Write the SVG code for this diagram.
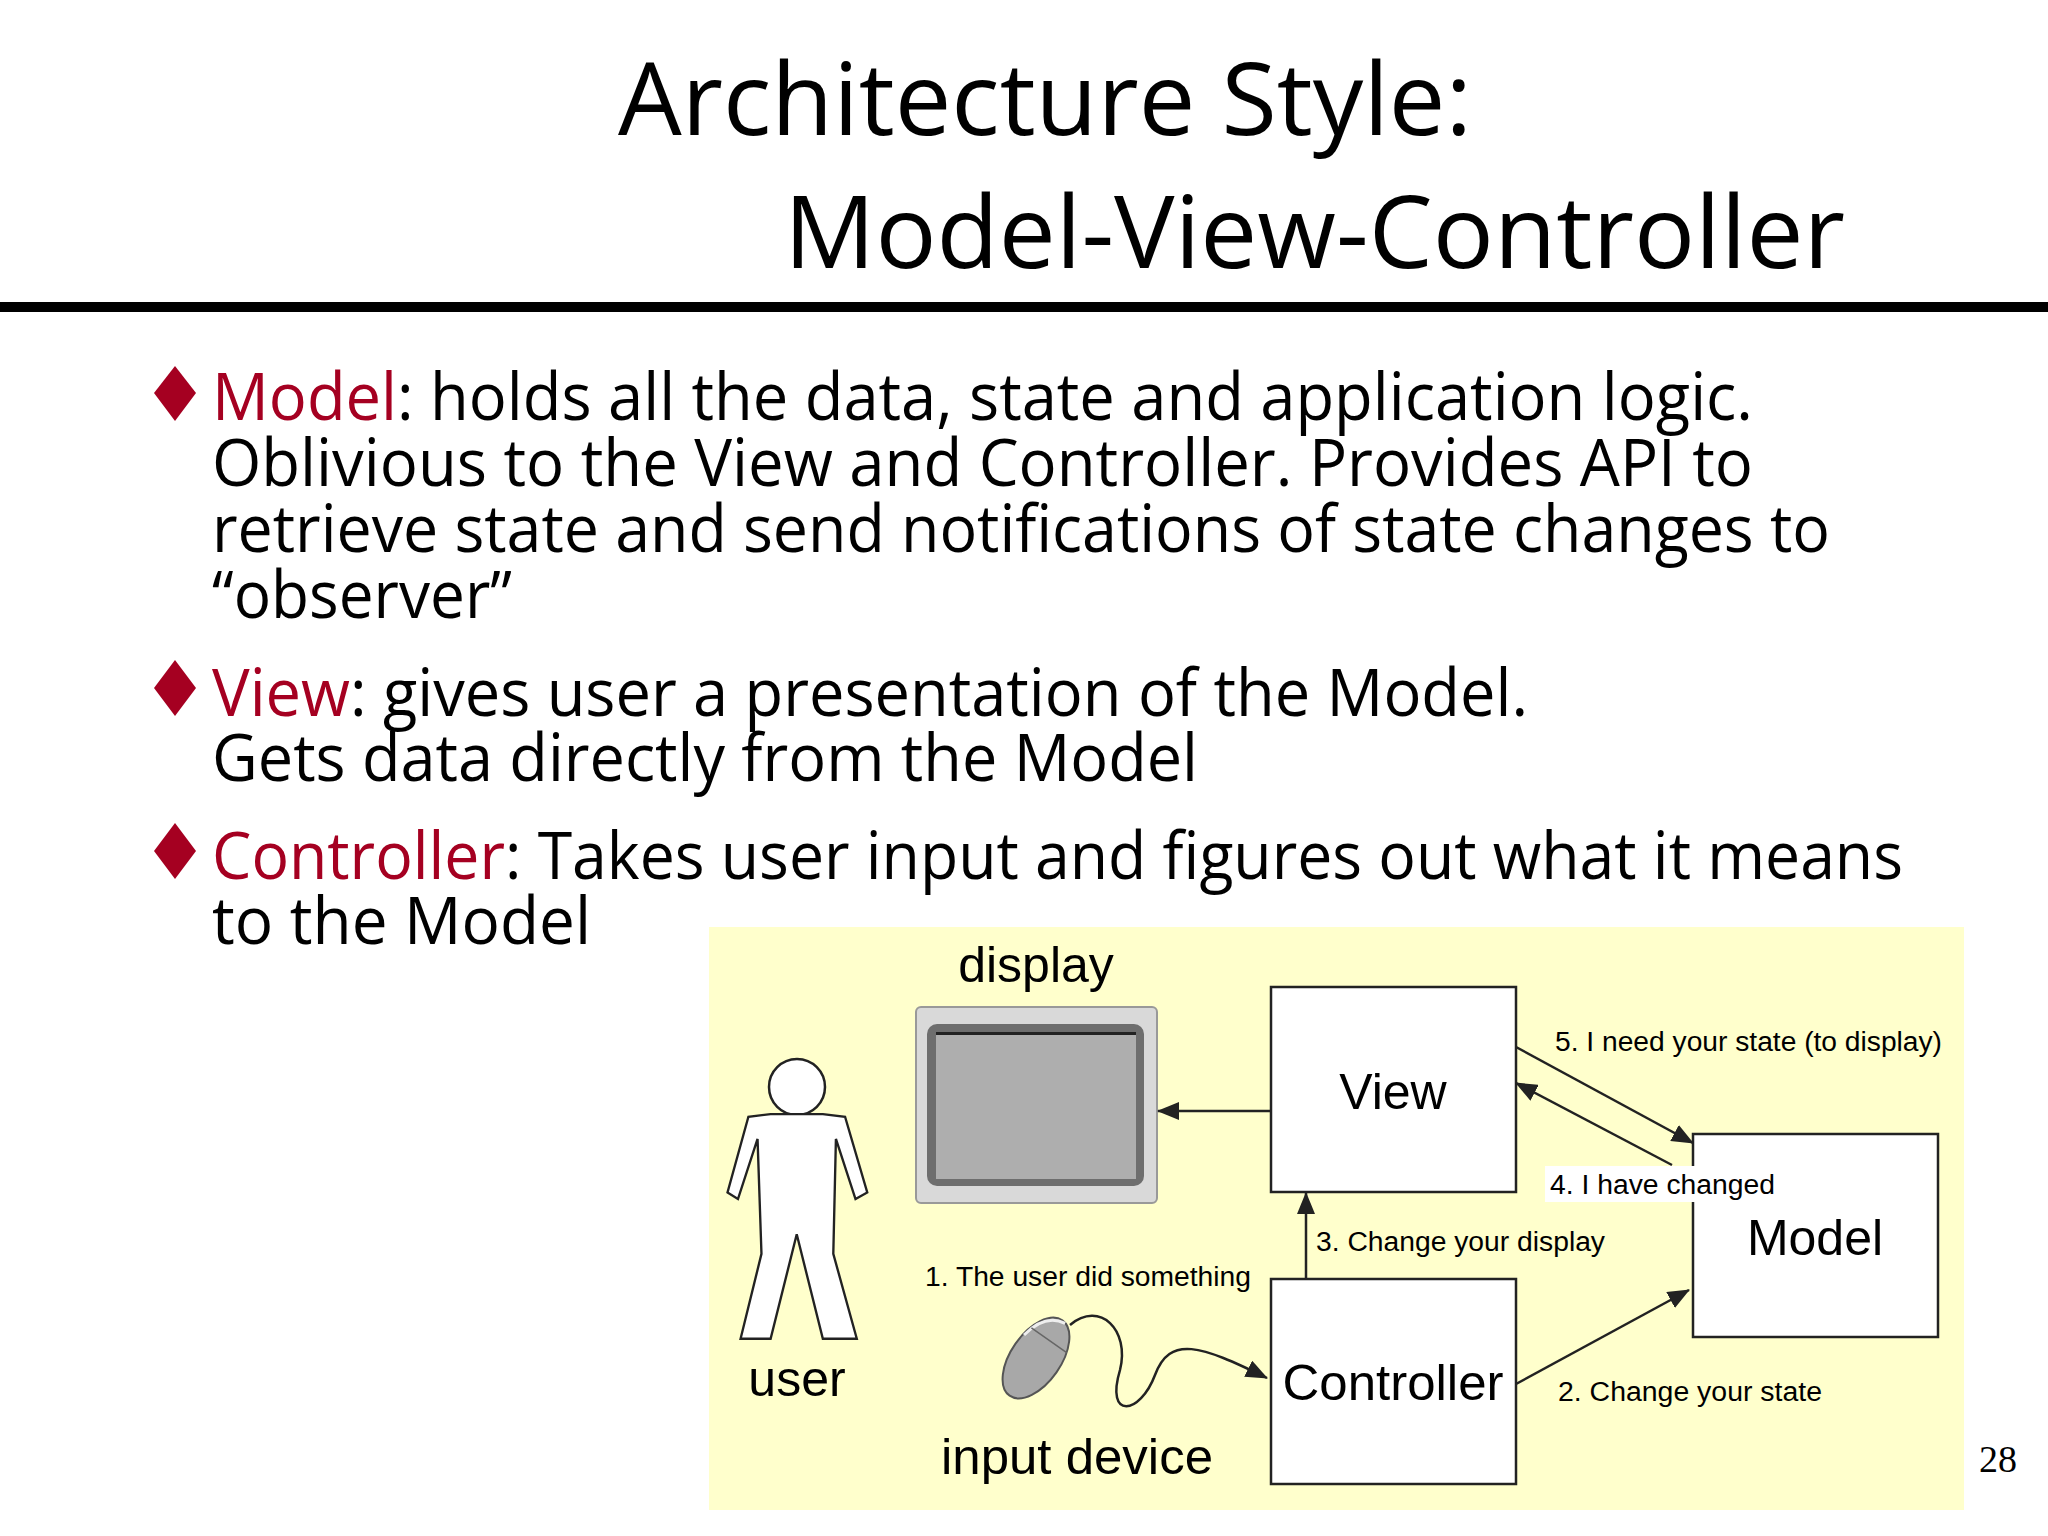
<svg xmlns="http://www.w3.org/2000/svg" width="2048" height="1536" viewBox="0 0 2048 1536">
<style>
.t{font-family:"Open Sans","Noto Sans",sans-serif;fill:#000}
.r{fill:#A50021}
.d{font-family:"Liberation Sans",Arial,sans-serif;fill:#000}
.box{fill:#fff;stroke:#222;stroke-width:2.5}
.ln{stroke:#222;stroke-width:2.5;fill:none}
</style>
<defs>
<marker id="ah" viewBox="0 0 22 18" refX="21" refY="9" markerWidth="22" markerHeight="18" markerUnits="userSpaceOnUse" orient="auto">
<path d="M0,0 L22,9 L0,18 Z" fill="#222"/>
</marker>
</defs>
<rect width="2048" height="1536" fill="#fff"/>
<text class="t" x="618" y="135" font-size="100" textLength="854" lengthAdjust="spacingAndGlyphs">Architecture Style:</text>
<text class="t" x="784" y="268" font-size="100" textLength="1061" lengthAdjust="spacingAndGlyphs">Model-View-Controller</text>
<rect x="0" y="302" width="2048" height="10" fill="#000"/>
<g id="bullets">
<path d="M175,366 L196,393 L175,421 L154,393 Z" fill="#A50021"/>
<path d="M175,660 L196,688 L175,716 L154,688 Z" fill="#A50021"/>
<path d="M175,823 L196,851 L175,879 L154,851 Z" fill="#A50021"/>
<text class="t" font-size="66" x="212" y="420" textLength="1541" lengthAdjust="spacingAndGlyphs"><tspan class="r">Model</tspan>: holds all the data, state and application logic.</text>
<text class="t" font-size="66" x="212" y="486" textLength="1541" lengthAdjust="spacingAndGlyphs">Oblivious to the View and Controller. Provides API to</text>
<text class="t" font-size="66" x="212" y="552" textLength="1618" lengthAdjust="spacingAndGlyphs">retrieve state and send notifications of state changes to</text>
<text class="t" font-size="66" x="212" y="618" textLength="300" lengthAdjust="spacingAndGlyphs">“observer”</text>
<text class="t" font-size="66" x="212" y="716" textLength="1316" lengthAdjust="spacingAndGlyphs"><tspan class="r">View</tspan>: gives user a presentation of the Model.</text>
<text class="t" font-size="66" x="212" y="781" textLength="986" lengthAdjust="spacingAndGlyphs">Gets data directly from the Model</text>
<text class="t" font-size="66" x="212" y="879" textLength="1691" lengthAdjust="spacingAndGlyphs"><tspan class="r">Controller</tspan>: Takes user input and figures out what it means</text>
<text class="t" font-size="66" x="212" y="944" textLength="379" lengthAdjust="spacingAndGlyphs">to the Model</text>
</g>
<rect x="709" y="927" width="1255" height="583" fill="#FFFFCC"/>
<g id="user">
<circle cx="797" cy="1087" r="28" fill="#fff" stroke="#222" stroke-width="2.5"/>
<polygon transform="scale(1.30612)" fill="#fff" stroke="#222" stroke-width="1.8" points="590,853 573,855 557,913 565,918 580,872 583,960 567,1025 590,1025 610,945 630,1025 656,1025 638,960 640,872 655,918 664,913 647,855 630,853"/>
<text class="d" x="797" y="1396" font-size="50" text-anchor="middle">user</text>
</g>
<g id="display">
<text class="d" x="1036" y="982" font-size="50" text-anchor="middle">display</text>
<rect x="916" y="1007" width="241" height="196" rx="5" fill="#D9D9D9" stroke="#999" stroke-width="2"/>
<rect x="927" y="1024" width="217" height="162" rx="10" fill="#6E6E6E"/>
<rect x="936" y="1032" width="200" height="147" fill="#AEAEAE"/>
<rect x="936" y="1032" width="200" height="3" fill="#222"/>
</g>
<g id="input">
<g transform="translate(1036,1358) rotate(-55)">
<ellipse cx="0" cy="0" rx="46" ry="25" fill="#A8A8A8" stroke="#555" stroke-width="2"/>
<path d="M12,-23 Q42,-18 45,4" fill="none" stroke="#eee" stroke-width="3"/>
<path d="M22,-21 L22,22" stroke="#666" stroke-width="1.5"/>
</g>
<text class="d" x="1077" y="1474" font-size="50" text-anchor="middle" textLength="272" lengthAdjust="spacingAndGlyphs">input device</text>
<text class="d" x="925" y="1286" font-size="27" textLength="326" lengthAdjust="spacingAndGlyphs">1. The user did something</text>
</g>
<g id="view"><rect class="box" x="1271" y="987" width="245" height="205"/><text class="d" x="1393" y="1109" font-size="50" text-anchor="middle">View</text></g>
<g id="controller"><rect class="box" x="1271" y="1279" width="245" height="205"/><text class="d" x="1393" y="1400" font-size="50" text-anchor="middle" textLength="221" lengthAdjust="spacingAndGlyphs">Controller</text></g>
<g id="model"><rect class="box" x="1693" y="1134" width="245" height="203"/><text class="d" x="1815" y="1255" font-size="50" text-anchor="middle">Model</text></g>
<g id="connectors">
<line class="ln" x1="1271" y1="1111" x2="1158" y2="1111" marker-end="url(#ah)"/>
<line class="ln" x1="1306" y1="1279" x2="1306" y2="1193" marker-end="url(#ah)"/>
<line class="ln" x1="1516" y1="1047" x2="1693" y2="1143" marker-end="url(#ah)"/>
<line class="ln" x1="1672" y1="1165" x2="1516" y2="1083" marker-end="url(#ah)"/>
<line class="ln" x1="1516" y1="1384" x2="1689" y2="1290" marker-end="url(#ah)"/>
<path class="ln" d="M1070,1325 C1100,1300 1130,1330 1120,1370 C1105,1420 1140,1415 1155,1375 C1170,1335 1200,1345 1267,1378" marker-end="url(#ah)"/>
<text class="d" x="1555" y="1051" font-size="27" textLength="387" lengthAdjust="spacingAndGlyphs">5. I need your state (to display)</text>
<rect x="1545" y="1166" width="231" height="36" fill="#fff"/>
<text class="d" x="1550" y="1194" font-size="27" textLength="225" lengthAdjust="spacingAndGlyphs">4. I have changed</text>
<text class="d" x="1316" y="1251" font-size="27" textLength="289" lengthAdjust="spacingAndGlyphs">3. Change your display</text>
<text class="d" x="1558" y="1401" font-size="27" textLength="264" lengthAdjust="spacingAndGlyphs">2. Change your state</text>
</g>
<text x="1979" y="1472" font-family="Liberation Serif,serif" font-size="38">28</text>
</svg>
